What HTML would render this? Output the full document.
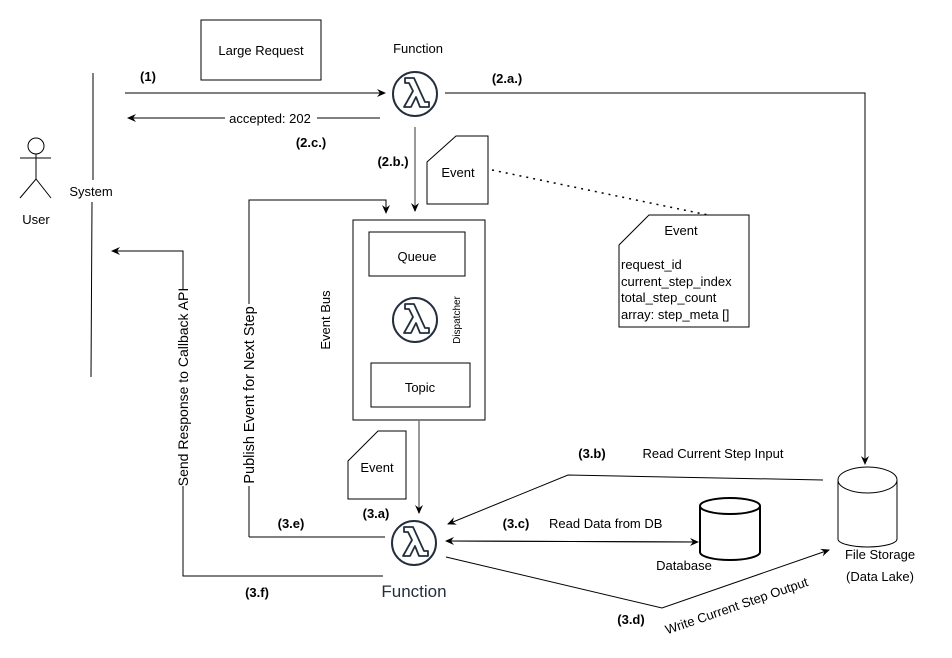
<!DOCTYPE html>
<html><head><meta charset="utf-8"><style>body{margin:0;background:#fff}svg{display:block}text{font-family:"Liberation Sans",sans-serif;font-size:13px;fill:#000}</style></head><body>
<svg width="952" height="658" viewBox="0 0 952 658" xmlns="http://www.w3.org/2000/svg">
<defs>
<marker id="a" markerWidth="10" markerHeight="10" refX="8" refY="5" orient="auto" markerUnits="userSpaceOnUse"><path d="M0,1 L9,5 L0,9 L3,5 Z" fill="#000"/></marker>
<g id="lam"><circle cx="0" cy="0" r="22" fill="none" stroke="#232f3e" stroke-width="2"/><path d="M-11,13 L-2,-3 L-6,-11 L-10,-11 L-10,-16 L-1,-16 L10,8 L14,8 L14,13 L5,13 L1,3 L-4,13 Z" fill="none" stroke="#232f3e" stroke-width="1.8" stroke-linejoin="round"/></g>
</defs>
<g fill="none" stroke="#000" stroke-width="1">
<circle cx="36" cy="146" r="8"/><line x1="36" y1="154" x2="36" y2="179"/><line x1="20" y1="158" x2="51" y2="158"/><path d="M20,198 L36,179 L51,198"/>
<line x1="93" y1="73" x2="93" y2="180"/><line x1="92" y1="202" x2="91" y2="377"/>
<rect x="201" y="20" width="120" height="60"/>
<line x1="125" y1="93" x2="385" y2="93" marker-end="url(#a)"/>
<line x1="380" y1="118" x2="128" y2="118" marker-end="url(#a)"/>
<path d="M445,93 L865,93 L865,464" marker-end="url(#a)"/>
<line x1="415" y1="127" x2="415" y2="211" stroke="#777" stroke-width="1.5" marker-end="url(#a)"/>
<path d="M427,162 L456,136 L488,136 L488,204 L427,204 Z"/>
<line x1="492" y1="170" x2="708" y2="215" stroke-dasharray="2,5" stroke-width="1.5"/>
<rect x="353" y="220" width="132" height="200"/>
<rect x="369" y="232" width="96" height="44"/>
<rect x="371" y="363" width="99" height="44"/>
<path d="M249,537 L249,200 L386,200 L386,213" marker-end="url(#a)"/>
<line x1="249" y1="537" x2="385" y2="537"/>
<path d="M383,576 L183,576 L183,251 L112,251" marker-end="url(#a)"/>
<path d="M348,461 L378,431 L406,431 L406,499 L348,499 Z"/>
<line x1="419" y1="420" x2="419" y2="513" stroke="#777" stroke-width="1.5" marker-end="url(#a)"/>
<path d="M823,480 L568,475 L448,524" marker-end="url(#a)"/>
<line x1="698" y1="542" x2="446" y2="541" marker-end="url(#a)"/>
<line x1="450" y1="541" x2="698" y2="542" marker-end="url(#a)"/>
<path d="M446,557 L662,608 L829,550" marker-end="url(#a)"/>
<path d="M700,506 L700,552 A30,8 0 0 0 760,552 L760,506" stroke-width="2"/>
<ellipse cx="730" cy="506" rx="30" ry="8" stroke-width="2"/>
<path d="M838,480 L838,539 A29.5,8 0 0 0 897,539 L897,480"/>
<ellipse cx="867.5" cy="480" rx="29.5" ry="13"/>
<path d="M619,245 L649,215 L749,215 L749,327 L619,327 Z"/>
</g>
<rect x="225" y="111" width="92" height="14" fill="#fff"/>
<rect x="176" y="289" width="16" height="197" fill="#fff"/>
<rect x="242" y="304" width="16" height="182" fill="#fff"/>
<use href="#lam" x="415" y="94"/>
<use href="#lam" x="415" y="320"/>
<use href="#lam" x="414" y="543"/>
<text x="36" y="224" text-anchor="middle">User</text>
<text x="91" y="196" text-anchor="middle">System</text>
<text x="261" y="55" text-anchor="middle">Large Request</text>
<text x="418" y="53" text-anchor="middle">Function</text>
<text x="148" y="81" font-weight="bold" text-anchor="middle">(1)</text>
<text x="507" y="83" font-weight="bold" text-anchor="middle">(2.a.)</text>
<text x="270" y="123" text-anchor="middle">accepted: 202</text>
<text x="311" y="147" font-weight="bold" text-anchor="middle">(2.c.)</text>
<text x="393" y="166" font-weight="bold" text-anchor="middle">(2.b.)</text>
<text x="458" y="177" text-anchor="middle">Event</text>
<text x="417" y="261" text-anchor="middle">Queue</text>
<text x="420" y="392" text-anchor="middle">Topic</text>
<text transform="translate(460,320) rotate(-90)" text-anchor="middle" style="font-size:10px">Dispatcher</text>
<text transform="translate(330,320) rotate(-90)" text-anchor="middle">Event Bus</text>
<text transform="translate(254,395) rotate(-90)" text-anchor="middle" style="font-size:14.5px">Publish Event for Next Step</text>
<text transform="translate(188,387) rotate(-90)" text-anchor="middle" style="font-size:14px">Send Response to Callback API</text>
<text x="377" y="472" text-anchor="middle">Event</text>
<text x="376" y="518" font-weight="bold" text-anchor="middle">(3.a)</text>
<text x="291" y="528" font-weight="bold" text-anchor="middle">(3.e)</text>
<text x="257" y="597" font-weight="bold" text-anchor="middle">(3.f)</text>
<text x="414" y="597" text-anchor="middle" style="font-size:17px;fill:#232f3e">Function</text>
<text x="592" y="458" font-weight="bold" text-anchor="middle">(3.b)</text>
<text x="713" y="458" text-anchor="middle">Read Current Step Input</text>
<text x="516" y="528" font-weight="bold" text-anchor="middle">(3.c)</text>
<text x="549" y="528">Read Data from DB</text>
<text x="684" y="570" text-anchor="middle">Database</text>
<text x="631" y="624" font-weight="bold" text-anchor="middle">(3.d)</text>
<text transform="translate(738,610) rotate(-19)" text-anchor="middle">Write Current Step Output</text>
<text x="880" y="559" text-anchor="middle">File Storage</text>
<text x="880" y="581" text-anchor="middle">(Data Lake)</text>
<text x="681" y="235" text-anchor="middle">Event</text>
<text x="621" y="269">request_id</text>
<text x="621" y="286">current_step_index</text>
<text x="621" y="302">total_step_count</text>
<text x="621" y="319">array: step_meta []</text>
</svg>
</body></html>
